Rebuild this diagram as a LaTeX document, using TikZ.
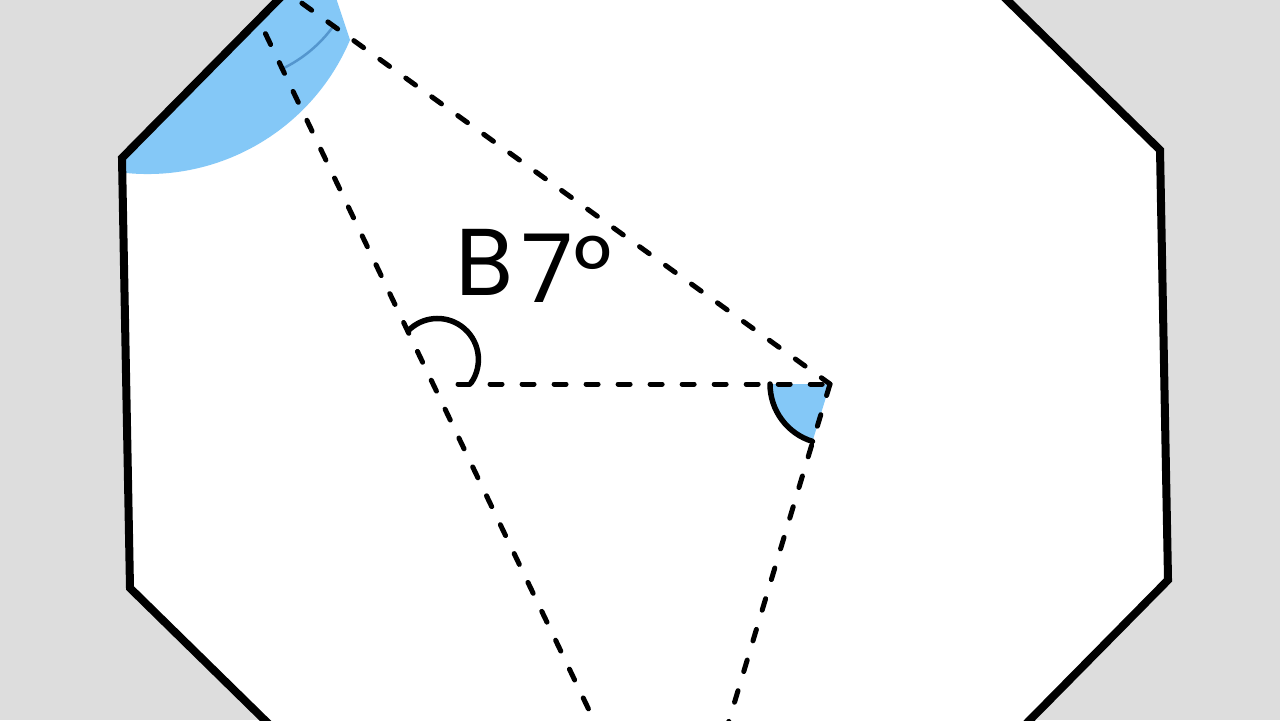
\documentclass[tikz,border=0pt]{standalone}
\usepackage{fontspec}
\setmainfont{Poppins}
\usepackage{tikz}
\usepackage{xcolor}
\definecolor{bgGrey}{RGB}{221,221,221}
\definecolor{angBlue}{RGB}{132,200,247}
\definecolor{angLine}{RGB}{84,150,206}

\begin{document}
\begin{tikzpicture}[x=0.01cm,y=0.01cm,
    side/.style={line width=0.8mm,line join=miter},
    dash line/.style={line width=0.5mm,dash pattern=on 1.2mm off 2mm,line cap=round},
    angle mark/.style={line width=0.55mm,line cap=round},
    label text/.style={font=\fontsize{27pt}{32pt}\selectfont,inner sep=0pt}]
        \useasboundingbox (0,0) rectangle (1280,720);
        \clip (0,0) rectangle (1280,720);
        \fill[bgGrey] (0,0) rectangle (1280,720);
        \coordinate (O1) at (122,562);
        \coordinate (O2) at (130,132);
        \coordinate (O3) at (437,-169);
        \coordinate (O4) at (866,-166);
        \coordinate (O5) at (1168,140);
        \coordinate (O6) at (1160,570);
        \coordinate (O7) at (853,871);
        \coordinate (O8) at (424,868);
        \coordinate (V) at (224,773);
        \coordinate (A) at (433,336);
        \coordinate (Ah) at (458,336);
        \coordinate (R) at (830,336);
        \coordinate (C) at (677,-174);
        \fill[white] (O1) -- (O2) -- (O3) -- (O4) -- (O5) -- (O6) -- (O7) -- (O8) -- cycle;
        \begin{scope}
          \clip (O1) -- (O2) -- (O3) -- (O4) -- (O5) -- (O6) -- (O7) -- (O8) -- cycle;
          \fill[angBlue] (335,725) -- (350,680) arc[start angle=-23,end angle=-96.5,radius=220] -- (100,540) -- (100,725) -- cycle;
          \fill[angBlue] (R) -- ++(180:60) arc[start angle=180,end angle=253,radius=60] -- cycle;
          \draw[line width=0.25mm,angLine] (V) ++(-35.8:135) arc[start angle=-35.8,end angle=-64.4,radius=135];
          \draw[dash line] (V) -- (R);
          \draw[dash line] (V) -- (C);
          \draw[dash line] (Ah) -- (R);
          \draw[dash line] (R) -- (C);
        \end{scope}
        \draw[side] (O1) -- (O2) -- (O3) -- (O4) -- (O5) -- (O6) -- (O7) -- (O8) -- cycle;
        \draw[angle mark] (471,337) arc[start angle=-35,end angle=136,radius=41];
        \draw[angle mark] (R) ++(180:60) arc[start angle=180,end angle=253,radius=60];
        \node[label text] (lblB) at (485,458) {B};
        \node[label text] (lblAng) at (567,452) {7°};
\end{tikzpicture}
\end{document}
